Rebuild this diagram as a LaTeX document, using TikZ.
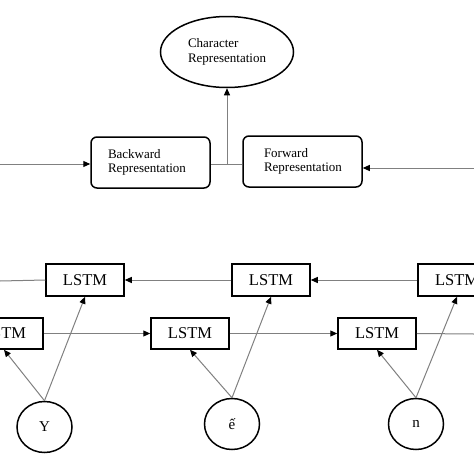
\documentclass[tikz,border=0pt]{standalone}
\usepackage{fontspec}
\setmainfont{Liberation Serif}
\usetikzlibrary{arrows.meta,shapes.geometric}
\begin{document}
\begin{tikzpicture}[x=1pt,y=-1pt,
  conn/.style={draw=black!50,line width=1pt},
  arr/.style={conn,-{Triangle[color=black,length=7pt,width=6pt]}},
  repbox/.style={draw,line width=1.5pt,rounded corners=6pt,minimum width=119pt,minimum height=51pt,inner sep=0pt,align=left,font=\fontsize{13}{14}\selectfont},
  lstm/.style={draw,line width=1.5pt,minimum width=78pt,minimum height=32pt,inner sep=0pt,font=\fontsize{16.5}{18}\selectfont},
  charin/.style={draw,ellipse,line width=1.5pt,minimum width=55pt,minimum height=51pt,inner sep=0pt,font=\fontsize{15}{17}\selectfont},
]
\useasboundingbox (0,0) rectangle (474,474);
% top part
\node[draw,ellipse,line width=1.5pt,minimum width=133pt,minimum height=71pt,inner sep=0pt,align=left,font=\fontsize{13}{14.5}\selectfont] (char) at (227,52) {Character\\Representation};
\node[repbox,text width=85pt] (back) at (150.5,162.5) {Backward\\Representation\vphantom{p}};
\node[repbox,text width=77pt] (fwd) at (302.5,161.5) {Forward\\Representation};
\coordinate (J) at (227,164);
\coordinate (L) at (0,164);
\coordinate (R) at (474,168);
\draw[conn] (back.east |- J) -- (fwd.west |- J);
\draw[arr] (J) -- (char.south);
\draw[arr] (L) -- (back.west |- L);
\draw[arr] (R) -- (fwd.east |- R);
% LSTM rows
\node[lstm] (t1) at (85,280) {LSTM};
\node[lstm] (t2) at (271,280) {LSTM};
\node[lstm] (t3) at (457,280) {LSTM};
\node[lstm,minimum height=31pt] (b0) at (4,333.5) {LSTM};
\node[lstm,minimum height=31pt] (b1) at (190,333.5) {LSTM};
\node[lstm,minimum height=31pt] (b2) at (377,333.5) {LSTM};
\coordinate (TL) at (0,281);
\coordinate (BR) at (474,334);
\draw[conn] (t1.west) -- (TL);
\draw[arr] (t2.west) -- (t1.east);
\draw[arr] (t3.west) -- (t2.east);
\draw[arr] (b0.east) -- (b1.west);
\draw[arr] (b1.east) -- (b2.west);
\draw[conn] (b2.east) -- (BR);
% characters
\node[charin] (c1) at (44.5,427) {Y};
\node[charin] (c2) at (232,424) {ế};
\node[charin] (c3) at (416,424) {n};
\draw[arr] (c1.north) -- (t1.south);
\draw[arr] (c1.north) -- (b0.south);
\draw[arr] (c2.north) -- (t2.south);
\draw[arr] (c2.north) -- (b1.south);
\draw[arr] (c3.north) -- (t3.south);
\draw[arr] (c3.north) -- (b2.south);
\end{tikzpicture}
\end{document}
